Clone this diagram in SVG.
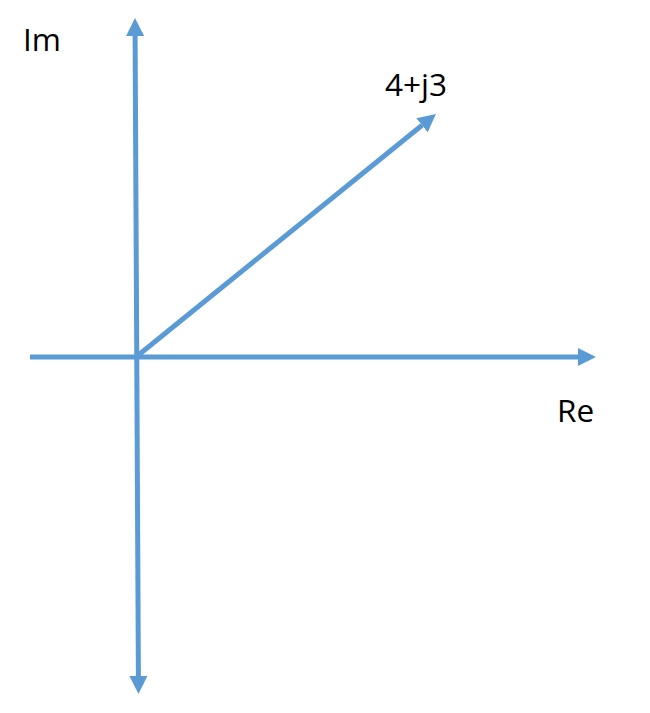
<svg xmlns="http://www.w3.org/2000/svg" width="650" height="713" viewBox="0 0 650 713">
  <style>
    .ax { stroke: #5B9BD5; stroke-width: 5; fill: none; }
    .lbl { font-family: "Open Sans", "Liberation Sans", sans-serif; font-size: 31.5px; fill: #000; }
  </style>
  <defs>
    <marker id="ah" markerUnits="userSpaceOnUse" markerWidth="18" markerHeight="18" refX="0" refY="9" orient="auto-start-reverse" viewBox="0 0 18 18">
      <path d="M0,0 L18,9 L0,18 z" fill="#5B9BD5"/>
    </marker>
  </defs>
  <rect width="650" height="713" fill="#fff"/>
  <g id="connectors">
    <path id="im-axis" class="ax" d="M138.4,676 L135.1,36" marker-start="url(#ah)" marker-end="url(#ah)"/>
    <path id="re-axis" class="ax" d="M30,357 L578,357" marker-end="url(#ah)"/>
    <path id="phasor" class="ax" d="M136,357 L422,125.3" marker-end="url(#ah)"/>
  </g>
  <g id="label-im"><text class="lbl" x="23" y="51">Im</text></g>
  <g id="label-z"><text class="lbl" x="385" y="96">4+j3</text></g>
  <g id="label-re"><text class="lbl" x="557" y="422">Re</text></g>
</svg>
